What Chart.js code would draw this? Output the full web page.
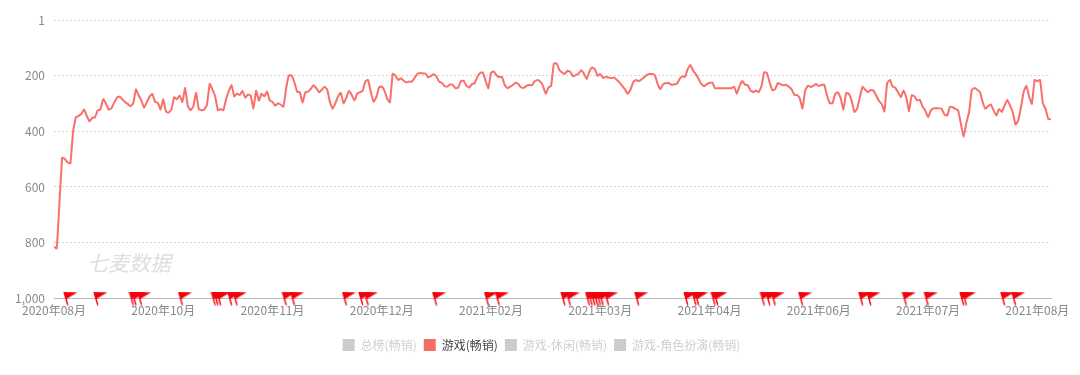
<!DOCTYPE html>
<html>
<head>
<meta charset="utf-8">
<script src="https://cdn.jsdelivr.net/npm/chart.js@4/dist/chart.umd.min.js"></script>
<style>
  html, body { margin: 0; padding: 0; background: #fff; }
  #rankChart { display: block; }
</style>
</head>
<body>
<canvas id="rankChart" width="1080" height="375"></canvas>
<script>
// Values, one per day
const rankValues = [
  815,820,655,495,500,512,515,400,350,345,338,322,345,365,352,350,325,322,285,300,
  322,318,298,280,275,285,295,302,310,300,250,272,290,316,295,275,266,295,298,322,
  285,330,333,322,278,285,272,295,245,310,325,312,262,320,325,322,305,230,250,275,
  325,320,325,285,255,235,275,265,270,255,280,268,272,318,255,290,265,275,258,290,
  295,308,300,305,312,245,200,200,225,258,260,298,260,258,248,235,245,260,252,240,
  250,295,320,300,275,262,300,280,255,270,290,265,260,255,221,216,260,294,278,243,
  239,255,284,296,194,200,216,210,219,225,222,222,209,195,191,193,193,207,202,196,
  203,222,227,238,240,232,234,246,243,219,219,237,243,231,228,205,191,189,219,246,
  190,185,199,206,205,234,246,240,234,226,231,243,244,237,234,235,221,216,222,237,
  266,243,237,157,157,180,189,194,183,187,203,199,194,181,193,213,186,171,177,201,
  195,209,205,207,210,207,215,225,237,249,266,252,225,216,220,215,207,199,195,195,
  199,231,249,231,228,227,233,232,231,213,203,205,177,162,183,195,213,231,239,231,
  227,225,246,246,246,246,246,246,246,240,266,237,220,233,235,254,260,254,260,239,
  188,191,225,253,249,227,231,235,233,240,249,269,270,281,318,254,237,241,237,231,
  238,234,233,272,299,300,266,260,281,322,263,266,290,331,320,278,241,251,260,252,
  254,272,291,302,329,228,216,239,244,260,278,254,278,328,271,275,290,287,312,326,
  350,326,318,318,318,320,340,344,312,314,320,325,373,421,370,332,251,245,251,260,
  296,320,309,304,326,344,320,331,308,287,308,332,376,362,314,258,237,276,302,216,
  221,216,299,320,356,357
];
const flagDays = [
  6,17,30,31,33,48,60,61,62,66,68,86,89,108,114,116,141,160,164,188,190,
  197,198,199,200,201,202,204,215,233,236,237,243,244,261,263,265,275,297,300,313,321,334,335,349,353
];
const tickDays = [0, 40, 80, 120, 160, 200, 240, 280, 320, 360];
const tickLabels = ['2020年08月','2020年10月','2020年11月','2020年12月','2021年02月','2021年03月','2021年04月','2021年06月','2021年07月','2021年08月'];
const rankTicks = [1, 200, 400, 600, 800, 1000];
const legendNames = ['总榜(畅销)', '游戏(畅销)', '游戏-休闲(畅销)', '游戏-角色扮演(畅销)'];

const fontFamily = "'Noto Sans CJK SC', 'Noto Sans', sans-serif";
const lineColor = '#f96f6a';
const offColor = '#cccccc';

// little red pennant used for the version markers
function makeFlag() {
  const c = document.createElement('canvas');
  c.width = 15;
  c.height = 14;
  const g = c.getContext('2d');
  g.fillStyle = '#f4000c';
  g.beginPath();
  g.moveTo(0.3, 0);
  g.lineTo(14.5, 0.8);
  g.lineTo(3.6, 7.5);
  g.closePath();
  g.fill();
  g.strokeStyle = '#f4000c';
  g.lineWidth = 1.4;
  g.beginPath();
  g.moveTo(1.2, 1);
  g.lineTo(4.8, 13.5);
  g.stroke();
  return c;
}

const watermark = {
  id: 'watermark',
  beforeDatasetsDraw(chart) {
    const ctx = chart.ctx;
    ctx.save();
    ctx.font = "italic 21px " + fontFamily;
    ctx.fillStyle = '#dedede';
    ctx.textBaseline = 'middle';
    ctx.fillText('七麦数据', 87, 263);
    ctx.restore();
  }
};

new Chart(document.getElementById('rankChart'), {
  type: 'line',
  plugins: [watermark],
  data: {
    datasets: [
      { label: legendNames[0], data: [], borderColor: offColor, backgroundColor: offColor },
      {
        label: legendNames[1],
        data: rankValues.map((v, i) => ({ x: i, y: v })),
        borderColor: lineColor,
        backgroundColor: lineColor,
        borderWidth: 2,
        pointRadius: 0,
        tension: 0.1
      },
      { label: legendNames[2], data: [], borderColor: offColor, backgroundColor: offColor },
      { label: legendNames[3], data: [], borderColor: offColor, backgroundColor: offColor },
      {
        label: 'flags',
        data: flagDays.map(d => ({ x: d, y: 1000 })),
        showLine: false,
        pointStyle: makeFlag(),
        pointRadius: 6,
        clip: false
      }
    ]
  },
  options: {
    responsive: false,
    animation: false,
    layout: { padding: { top: 20, right: 0, bottom: 14, left: 3 } },
    plugins: {
      tooltip: { enabled: false },
      legend: {
        position: 'bottom',
        onClick: null,
        labels: {
          boxWidth: 12,
          boxHeight: 12,
          padding: 7,
          useBorderRadius: true,
          borderRadius: 3,
          font: { family: fontFamily, size: 12 },
          generateLabels: () => legendNames.map((name, i) => ({
            text: name,
            fillStyle: i === 1 ? '#f56e62' : offColor,
            strokeStyle: 'transparent',
            lineWidth: 0,
            fontColor: i === 1 ? '#444' : '#cfcfcf',
            datasetIndex: i
          }))
        }
      }
    },
    scales: {
      x: {
        type: 'linear',
        min: 0,
        max: 365,
        afterBuildTicks: scale => { scale.ticks = tickDays.map(d => ({ value: d })); },
        afterFit: scale => { scale.height = 33.5; scale.paddingRight = 29; },
        grid: { display: false, drawTicks: false },
        border: { color: '#bbbbbb', width: 1 },
        ticks: {
          autoSkip: false,
          maxRotation: 0,
          padding: 5,
          color: '#888',
          font: { family: fontFamily, size: 12 },
          callback: value => tickLabels[tickDays.indexOf(value)]
        }
      },
      y: {
        reverse: true,
        min: 1,
        max: 1000,
        afterBuildTicks: scale => { scale.ticks = rankTicks.map(v => ({ value: v })); },
        afterFit: scale => { scale.width = 51; },
        grid: { color: '#d8d8d8', drawTicks: false },
        border: { display: false, dash: [2, 2] },
        ticks: {
          padding: 9,
          color: '#888',
          font: { family: fontFamily, size: 12 },
          callback: value => value.toLocaleString('en-US')
        }
      }
    }
  }
});
</script>
</body>
</html>
